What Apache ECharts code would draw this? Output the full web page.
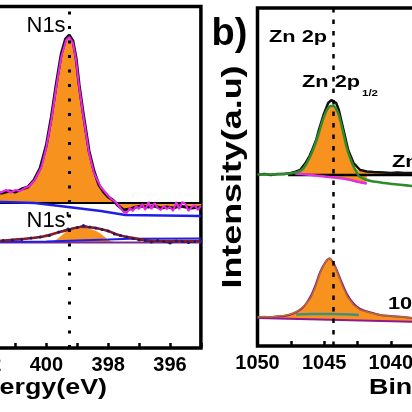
<!DOCTYPE html>
<html>
<head>
<meta charset="utf-8">
<script src="https://cdn.jsdelivr.net/npm/echarts@6/dist/echarts.min.js"></script>
<style>html,body{margin:0;padding:0;background:#fff}#c{width:412px;height:412px}</style>
</head>
<body>
<div id="c"></div>
<script>
// ---------- tick labels ----------
const leftTickLabels = [402, 400, 398, 396];
const rightTickLabels = [1050, 1045, 1040];
const n1sPeakPos = 399.26;
const zn2pPeakPos = 1044.3;

// ---------- panel a: N1s (upper spectrum) ----------
const n1sFitX = [402.0, 401.8, 401.6, 401.44, 401.3, 401.15, 401.0, 400.85, 400.7, 400.55, 400.38, 400.16, 400.0, 399.84, 399.68, 399.52, 399.36, 399.26, 399.14, 399.04, 398.94, 398.82, 398.72, 398.62, 398.46, 398.24, 398.02, 397.9, 397.76, 397.6, 397.5, 397.4, 397.3, 397.2, 397.1, 397.0, 396.9, 396.8, 396.7, 396.6, 396.5, 396.4, 396.3, 396.2, 396.1, 396.0, 395.9, 395.8, 395.7, 395.6, 395.5, 395.4, 395.3, 395.2, 395.1, 395.0];
const n1sFit = [155, 156, 154, 156, 158, 155.5, 158, 157, 160, 162, 168, 181, 201, 228, 261, 291, 308, 311, 305, 288, 261, 235, 215, 195, 175, 161, 153, 149, 146, 140, 136, 135, 140, 137, 142, 139, 144, 138, 146, 139, 145, 140, 138, 142, 139, 141, 137, 146, 139, 146, 144, 137, 141, 143, 138, 142];
const n1sRawX = [402.0, 401.7, 401.44, 401.2, 401.0, 400.8, 400.6, 400.4, 400.2, 400.0, 399.84, 399.68, 399.52, 399.38, 399.26, 399.14, 399.04, 398.94, 398.82, 398.72, 398.62, 398.46, 398.3, 398.15, 398.0, 397.85, 397.7, 397.5, 397.3, 397.1, 396.9, 396.7, 396.5, 396.3, 396.1, 395.9, 395.7, 395.5, 395.3, 395.0];
const n1sRaw = [154, 155, 155, 157, 156, 159, 161, 168, 180, 203, 231, 264, 294, 309, 313, 307, 290, 263, 237, 217, 197, 177, 163, 156, 151, 148, 143, 138, 139, 141, 142, 141, 142, 140, 141, 140, 142, 141, 140, 141];
const n1sBaseline = 145;
const n1sBgX = [402.0, 401.44, 400.38, 399.3, 398.24, 397.44, 395.0];
const n1sBg = [146.5, 146, 145, 141, 137, 133, 132];

// ---------- panel a: N1s' (lower spectrum) ----------
const n1sPrimeBaseline = 105.5;
const n1sPrimeCompX = [399.92, 399.84, 399.68, 399.52, 399.36, 399.2, 399.04, 398.88, 398.62, 398.4, 398.24, 398.08, 397.92, 397.76, 397.68];
const n1sPrimeComp = [105.5, 106, 108, 112, 116, 118, 119, 119.5, 119, 117, 114, 110, 106.5, 105.5, 105.5];
const n1sPrimeFitX = [402.0, 401.44, 400.8, 400.16, 399.68, 399.3, 398.88, 398.46, 398.02, 397.76, 397.44, 397.18, 396.86, 396.32, 395.0];
const n1sPrimeFit = [107, 107.3, 109, 111.3, 115, 118, 121, 120.3, 117.3, 114, 111.3, 110, 108, 107, 107];
const n1sPrimeRawX = [402.0, 401.7, 401.4, 401.1, 400.8, 400.5, 400.2, 399.9, 399.6, 399.3, 399.0, 398.8, 398.6, 398.4, 398.2, 398.0, 397.8, 397.6, 397.4, 397.2, 397.0, 396.8, 396.6, 396.4, 396.2, 396.0, 395.8, 395.6, 395.4, 395.2, 395.0];
const n1sPrimeRaw = [107.5, 106, 107.5, 108, 108.5, 110, 111, 112.5, 116, 119, 120.5, 122.5, 121, 120, 118.5, 117, 114, 112.5, 111, 109.5, 108, 107.5, 106, 107.5, 106.5, 105, 107, 106.5, 105.5, 106.5, 107];
const n1sPrimeBgX = [402.0, 401.44, 400.0, 399.0, 398.0, 397.3, 395.0];
const n1sPrimeBg = [106.5, 106.3, 106.5, 107.5, 108.5, 109.3, 109.5];

// ---------- panel b: Zn 2p (upper spectrum) ----------
const znRawX = [1050, 1049.5, 1049, 1048.5, 1048, 1047.5, 1047.2, 1046.8, 1046.4, 1046.1, 1045.9, 1045.6, 1045.4, 1045.05, 1044.7, 1044.45, 1044.3, 1044.1, 1043.9, 1043.55, 1043.2, 1042.8, 1042.3, 1041.8, 1041.3, 1040.5, 1040, 1039.5, 1039, 1038.5, 1038, 1037, 1036, 1035];
const znRaw = [171, 172, 171, 172, 172, 173, 174, 176, 183, 190, 196, 206, 216, 231, 243, 246, 246, 243, 236, 216, 196, 183, 176, 174.5, 174, 173.5, 173, 173.5, 173, 173, 172.5, 172, 171.5, 171];
const znFitX = [1050, 1048, 1047, 1046.6, 1046.3, 1046, 1045.7, 1045.4, 1045.1, 1044.8, 1044.5, 1044.3, 1044.1, 1043.9, 1043.6, 1043.3, 1043, 1042.7, 1042.4, 1042, 1041.5, 1040.5, 1039.5, 1038.4, 1037, 1035];
const znFit = [171.5, 172, 174, 177, 183, 191, 201, 213, 226, 236, 240, 240, 237, 231, 215, 198, 186, 177, 170, 167, 165, 163, 161.5, 160, 158.5, 157];
const znBgX = [1047.2, 1046.0, 1044.3, 1043.2, 1042.4, 1041.8];
const znBg = [172.5, 171, 168.5, 166.5, 164, 162.5];
const znBaseX = [1047.7, 1035];
const znBase = [171, 171];
const znCompX = [1047.5, 1047, 1046.6, 1046.3, 1046, 1045.7, 1045.4, 1045.1, 1044.8, 1044.5, 1044.3, 1044.1, 1043.9, 1043.6, 1043.3, 1043, 1042.7, 1042.4, 1042.1, 1041.9, 1041.8, 1041, 1040, 1039, 1038, 1037, 1035];
const znCompTop = [172.5, 174, 177, 183, 191, 201, 213, 226, 236, 240, 240, 237, 231, 215, 198, 186, 178, 175, 174, 174, 174, 173.5, 173, 173, 172.5, 172, 171.5];
const znCompBottom = [172.5, 172, 171.7, 171.4, 171, 170.7, 170.3, 170, 169.5, 169, 168.5, 168.2, 167.8, 167.3, 166.7, 166, 165.2, 164.2, 163.5, 163, 170.5, 170.5, 170.5, 170.5, 170.5, 170.5, 170.5];

// ---------- panel b: lower spectrum ----------
const znLowRawX = [1050, 1049.5, 1049, 1048.5, 1048, 1047.5, 1047, 1046.6, 1046.3, 1046.0, 1045.65, 1045.3, 1044.9, 1044.6, 1044.3, 1044.0, 1043.6, 1043.25, 1042.8, 1042.3, 1041.5, 1040.8, 1040, 1039, 1038.4, 1037, 1035];
const znLowRaw = [29, 29.5, 29, 30, 30.5, 32, 35, 39, 43, 48, 59, 73, 84, 88, 83, 73, 59, 49, 41, 36, 33, 31, 30, 29, 28, 27.5, 27];
const znLowFit = [29, 29, 29, 29.5, 30, 31.5, 34.5, 38.5, 43.5, 50, 61, 74, 84, 87.5, 83, 74, 61, 51, 42.5, 37, 33.5, 31, 30, 29, 28, 27.5, 27];
const znLowBaseX = [1050, 1035];
const znLowBase = [28, 23];
const znLowCompX = [1048.5, 1048, 1047.5, 1047, 1046.6, 1046.3, 1046.0, 1045.65, 1045.3, 1044.9, 1044.6, 1044.3, 1044.0, 1043.6, 1043.25, 1042.8, 1042.3, 1041.5, 1040.8, 1040, 1039, 1038.4, 1037, 1035];
const znLowCompTop = [29.5, 30, 31.5, 34.5, 38.5, 43, 48, 59, 73, 84, 88, 83, 73, 59, 49, 41, 36, 33, 31, 30, 29, 28, 27.5, 27];
const znLowCompBottom = [27.5, 27.3, 27.2, 27, 26.9, 26.8, 26.7, 26.6, 26.4, 26.3, 26.2, 26.1, 26, 25.9, 25.8, 25.6, 25.4, 25.2, 25, 24.7, 24.3, 24, 23.7, 23];
const znLowBgX = [1047.1, 1046, 1044.5, 1043, 1042.4];
const znLowBg = [31.5, 32, 32, 31.5, 31];

// ---------- helpers ----------
const ORANGE = '#F7921E';
const FONT = '"Liberation Sans", Arial, sans-serif';
const pairs = (xs, ys) => xs.map((x, i) => [x, ys[i]]);
function line(name, grid, xs, ys, color, width, extra) {
  return Object.assign({
    name, type: 'line', xAxisIndex: grid, yAxisIndex: grid,
    data: pairs(xs, ys), symbol: 'none', silent: true, animation: false,
    lineStyle: { color, width }, clip: true
  }, extra || {});
}
// filled component: polygon between a lower and an upper curve, placed through the axes
function band(name, grid, xs, bottom, top) {
  return {
    name, type: 'custom', xAxisIndex: grid, yAxisIndex: grid, silent: true, animation: false, clip: true,
    data: [[xs[0], top[0]]],
    renderItem: function (params, api) {
      const pts = [];
      for (let i = 0; i < xs.length; i++) pts.push(api.coord([xs[i], top[i]]));
      for (let i = xs.length - 1; i >= 0; i--) pts.push(api.coord([xs[i], bottom[i]]));
      return { type: 'polygon', shape: { points: pts }, style: { fill: ORANGE, stroke: ORANGE, lineWidth: 0.5 } };
    }
  };
}

const axisLabelBase = { color: '#000', fontFamily: FONT, fontWeight: 'bold', fontSize: 20, margin: 7 };
const tickStyle = { show: true, inside: true, length: 5, lineStyle: { color: '#000', width: 2.5 } };

const series = [
  // panel a upper
  line('N1s baseline', 0, [402, 395], [n1sBaseline, n1sBaseline], '#000', 2),
  band('N1s component', 0, n1sFitX, n1sFitX.map(() => n1sBaseline), n1sFit),
  line('N1s background', 0, n1sBgX, n1sBg, '#1f1fe6', 2.5),
  line('N1s data', 0, n1sRawX, n1sRaw, '#111', 3),
  line('N1s fit', 0, n1sFitX, n1sFit, '#ee22ee', 2),
  // panel a lower
  band("N1s' component", 0, n1sPrimeCompX, n1sPrimeCompX.map(() => n1sPrimeBaseline), n1sPrimeComp),
  line("N1s' baseline", 0, [402, 395], [n1sPrimeBaseline, n1sPrimeBaseline], '#7b2d8e', 2),
  line("N1s' background", 0, n1sPrimeBgX, n1sPrimeBg, '#1f1fe6', 2),
  line("N1s' data", 0, n1sPrimeRawX, n1sPrimeRaw, '#1b1b7a', 1.5, { symbol: 'circle', symbolSize: 3, showSymbol: true, itemStyle: { color: '#1b1b7a' } }),
  line("N1s' fit", 0, n1sPrimeFitX, n1sPrimeFit, '#8b1c1c', 2.5, {
    smooth: 0.3,
    markLine: { silent: true, symbol: ['none', 'none'], label: { show: false }, animation: false,
      lineStyle: { color: '#000', width: 3, type: [3, 11.5] }, data: [{ xAxis: n1sPeakPos }] }
  }),
  // panel b upper
  line('Zn baseline', 1, znBaseX, znBase, '#000', 2.5),
  band('Zn 2p1/2 component', 1, znCompX, znCompBottom, znCompTop),
  line('Zn background', 1, znBgX, znBg, '#e030e0', 2.5, { smooth: 0.3 }),
  line('Zn data', 1, znRawX, znRaw, '#111', 2.5),
  line('Zn fit', 1, znFitX, znFit, '#2e8b2e', 2.5, { smooth: 0.3 }),
  // panel b lower
  band('Zn low component', 1, znLowCompX, znLowCompBottom, znLowCompTop),
  line('Zn low baseline', 1, znLowBaseX, znLowBase, '#8e1b8e', 2),
  line('Zn low background', 1, znLowBgX, znLowBg, '#3d8f7f', 2.5, { smooth: 0.3 }),
  line('Zn low fit', 1, znLowRawX, znLowFit, '#8e1b8e', 2, { smooth: 0.3 }),
  line('Zn low data', 1, znLowRawX, znLowRaw, '#b5702a', 1.5, {
    markLine: { silent: true, symbol: ['none', 'none'], label: { show: false }, animation: false,
      lineStyle: { color: '#000', width: 2.5, type: [4.5, 7] }, data: [{ xAxis: zn2pPeakPos }] }
  })
];

function txt(text, x, y, font, opts) {
  return Object.assign({
    type: 'text', x, y, silent: true,
    style: { text, fill: '#000', font, align: (opts && opts.align) || 'left', verticalAlign: 'middle',
      textAlign: (opts && opts.align) || 'left', textVerticalAlign: 'middle' }
  }, opts && opts.el ? opts.el : {});
}

const option = {
  backgroundColor: '#fff',
  animation: false,
  grid: [
    { left: -46.3, top: 6.5, width: 247.2, height: 341.5, show: true, borderColor: '#000', borderWidth: 3.5, containLabel: false, outerBoundsMode: 'none' },
    { left: 257.5, top: 8, width: 200, height: 338, show: true, borderColor: '#000', borderWidth: 3.5, containLabel: false, outerBoundsMode: 'none' }
  ],
  xAxis: [
    { gridIndex: 0, type: 'value', inverse: true, min: 395, max: 403, interval: 1,
      axisLine: { show: false }, splitLine: { show: false }, axisTick: tickStyle,
      axisLabel: Object.assign({}, axisLabelBase, { formatter: v => leftTickLabels.includes(v) ? String(v) : '' }) },
    { gridIndex: 1, type: 'value', inverse: true, min: 1035, max: 1050, interval: 2.5,
      axisLine: { show: false }, splitLine: { show: false }, axisTick: tickStyle,
      axisLabel: Object.assign({}, axisLabelBase, { formatter: v => rightTickLabels.includes(v) ? String(v) : '' }) }
  ],
  yAxis: [
    { gridIndex: 0, type: 'value', min: 0, max: 341.5, show: false },
    { gridIndex: 1, type: 'value', min: 0, max: 338, show: false }
  ],
  series,
  graphic: [
    txt('N1s', 26.5, 26, '22px ' + FONT),
    txt("N1s'", 26.5, 221, '22px ' + FONT),
    txt('b)', 229.5, 35, 'bold 38px ' + FONT, { align: 'center' }),
    txt('Intensity(a.u)', 233, 177, 'bold 28px ' + FONT, { align: 'center', el: { rotation: Math.PI / 2, scaleX: 1.28 } }),
    txt('Zn 2p', 269, 37.5, 'bold 17px ' + FONT, { el: { scaleX: 1.28 } }),
    txt('Zn 2p', 302, 82.5, 'bold 17px ' + FONT, { el: { scaleX: 1.28 } }),
    txt('1/2', 362, 93.5, 'bold 9px ' + FONT, { el: { scaleX: 1.28 } }),
    txt('Zn 2p', 392, 162, 'bold 17px ' + FONT, { el: { scaleX: 1.28 } }),
    txt('3/2', 452, 173, 'bold 9px ' + FONT, { el: { scaleX: 1.28 } }),
    txt('10', 388, 304, 'bold 17px ' + FONT, { el: { scaleX: 1.28 } }),
    txt('Binding Energy(eV)', 107, 388, 'bold 22px ' + FONT, { align: 'right', el: { scaleX: 1.22 } }),
    txt('Binding Energy(eV)', 369, 388, 'bold 22px ' + FONT, { el: { scaleX: 1.22 } })
  ]
};

const chart = echarts.init(document.getElementById('c'), null, { renderer: 'canvas' });
chart.setOption(option);
</script>
</body>
</html>
